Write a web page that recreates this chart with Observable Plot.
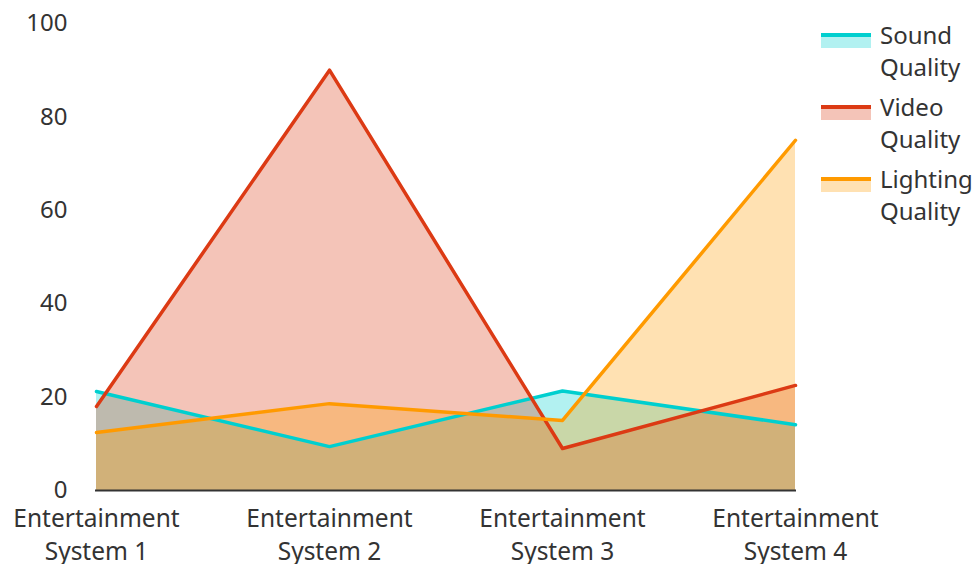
<!DOCTYPE html>
<html><head><meta charset="utf-8">
<script src="https://cdn.jsdelivr.net/npm/d3@7"></script>
<script src="https://cdn.jsdelivr.net/npm/@observablehq/plot@0.6"></script>
<style>
html,body{margin:0;padding:0;background:#fff;}
#wrap{position:relative;width:978px;height:564px;font-family:"Noto Sans",sans-serif;}
#legend{position:absolute;left:821px;top:19px;color:#333;font-size:24px;line-height:32px;}
.item{display:flex;align-items:flex-start;height:72px;}
.sw{width:50px;height:15px;margin-top:14px;margin-right:9px;box-sizing:border-box;}
</style></head>
<body><div id="wrap"><div id="chart"></div><div id="legend"></div></div>
<script>
const systems = ["Entertainment System 1","Entertainment System 2","Entertainment System 3","Entertainment System 4"];
const seriesNames = ["Sound Quality","Video Quality","Lighting Quality"];
const soundQuality = [21.2, 9.4, 21.3, 14.1];
const videoQuality = [18, 90, 9, 22.5];
const lightingQuality = [12.4, 18.6, 15, 75];
const colors = ["#00cfcf","#dc3a14","#ff9a00"];
const majorTicks = [0,20,40,60,80,100];
const minorTicks = [10,30,50,70,90];

const values = [soundQuality, videoQuality, lightingQuality];
const data = [];
seriesNames.forEach((s,i)=>systems.forEach((c,j)=>data.push({series:s, system:c, value:values[i][j]})));

const chart = Plot.plot({
  width: 978, height: 564,
  marginLeft: 95, marginRight: 182, marginTop: 23, marginBottom: 74,
  style: {fontFamily: '"Noto Sans", sans-serif', fontSize: "24px", color: "#333", overflow: "visible"},
  x: {type: "point", domain: systems, padding: 0, label: null},
  y: {domain: [0,100], label: null},
  color: {domain: seriesNames, range: colors},
  marks: [
    Plot.ruleY(minorTicks, {stroke: "#e8e8e8", strokeWidth: 1.5, x1: systems[0], x2: systems[3]}),
    Plot.ruleY(majorTicks, {stroke: "#c8c8c8", strokeWidth: 1.5, x1: systems[0], x2: systems[3]}),
    Plot.areaY(data, {x: "system", y1: 0, y2: "value", fill: "series", fillOpacity: 0.3}),
    Plot.lineY(data, {x: "system", y: "value", stroke: "series", strokeWidth: 3.5}),
    Plot.ruleY([0], {stroke: "#333", strokeWidth: 2}),
    Plot.axisY(majorTicks, {tickSize: 0, tickPadding: 28, fontSize: 24, fill: "#333"}),
    Plot.axisX({tickSize: 0, tickPadding: 14, fontSize: 24.5, fill: "#333", lineHeight: 1.32,
      tickFormat: d => d.replace(" System", "\nSystem")})
  ]
});
document.getElementById("chart").appendChild(chart);

const legend = document.getElementById("legend");
seriesNames.forEach((s,i)=>{
  const item = document.createElement("div"); item.className="item";
  const sw = document.createElement("div"); sw.className="sw";
  const c = d3.color(colors[i]); c.opacity = 0.3;
  sw.style.background = c.formatRgb();
  sw.style.borderTop = "4px solid " + colors[i];
  const t = document.createElement("div"); t.innerHTML = s.replace(" ","<br>");
  item.appendChild(sw); item.appendChild(t); legend.appendChild(item);
});
</script></body></html>
